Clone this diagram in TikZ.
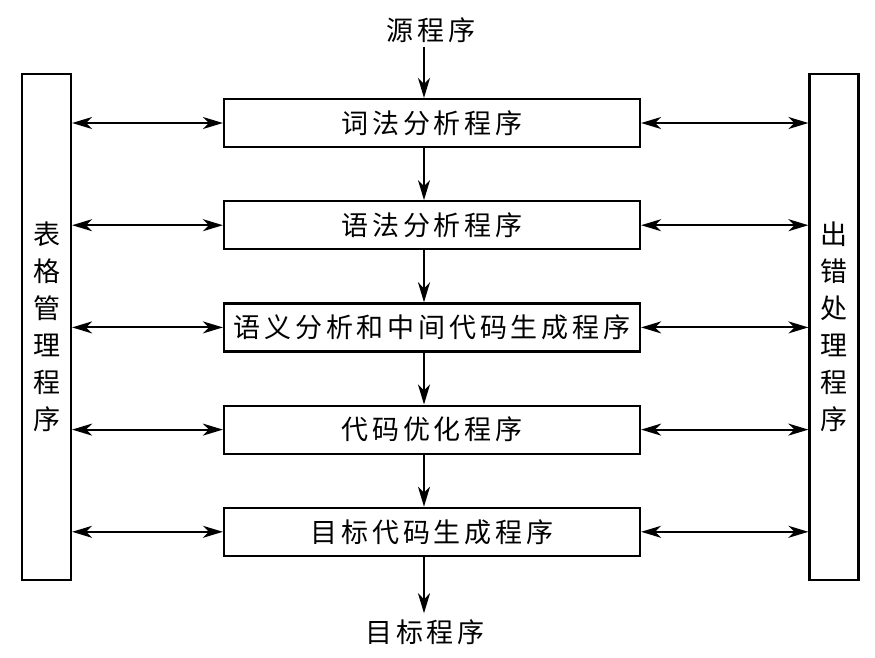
\documentclass[tikz,border=0pt]{standalone}
\usepackage{fontspec}
\newfontfamily\cjk[LetterSpace=14]{Noto Sans CJK SC}
\newfontfamily\cjkv{Noto Sans CJK SC}
\usepackage{tikz}
\usetikzlibrary{arrows.meta, positioning, calc}
\tikzset{
    block/.style={rectangle, draw=black, line width=2.2pt, minimum width=416pt, minimum height=48pt, inner sep=0pt, font=\cjk\fontsize{27}{32}\selectfont},
    sidebox/.style={rectangle, draw=black, line width=2.2pt, minimum width=49pt, minimum height=506pt, inner sep=0pt, align=center, font=\cjkv\fontsize{27}{37}\selectfont},
    io/.style={inner sep=0pt, font=\cjk\fontsize{27}{32}\selectfont},
    arrow/.style={-{Stealth[length=20pt, width=12pt, inset=6pt]}, line width=2pt},
    biarrow/.style={{Stealth[length=20pt, width=12pt, inset=6pt]}-{Stealth[length=20pt, width=12pt, inset=6pt]}, line width=2pt}
}

\begin{document}
\begin{tikzpicture}[x=1pt, y=-1pt, node distance=52pt]
    \useasboundingbox (0,0) rectangle (875,657);

    % the five passes
    \node [block] (lex) at (432,123) {词法分析程序};
    \node [block, below=of lex] (syn) {语法分析程序};
    \node [block, below=of syn] (sem) {语义分析和中间代码生成程序};
    \node [block, below=of sem] (opt) {代码优化程序};
    \node [block, below=of opt] (gen) {目标代码生成程序};

    % side boxes
    \node [sidebox] (table) at (46.5,327) {表\\格\\管\\理\\程\\序};
    \node [sidebox] (error) at (834,327) {出\\错\\处\\理\\程\\序};

    % input and output
    \node [io] (src) at (431,30) {源程序};
    \node [io] (tgt) at (425,632) {目标程序};
    \coordinate (ax) at (424,0);

    % main flow
    \draw [arrow] (ax |- src.south) ++(0,4) -- (ax |- lex.north);
    \draw [arrow] (ax |- lex.south) -- (ax |- syn.north);
    \draw [arrow] (ax |- syn.south) -- (ax |- sem.north);
    \draw [arrow] (ax |- sem.south) -- (ax |- opt.north);
    \draw [arrow] (ax |- opt.south) -- (ax |- gen.north);
    \draw [arrow] (ax |- gen.south) -- ($(ax |- tgt.north)+(0,-6)$);

    % links to the side boxes
    \foreach \pass in {lex, syn, sem, opt, gen} {
        \draw [biarrow] (table.east |- \pass) -- (\pass.west);
        \draw [biarrow] (\pass.east) -- (error.west |- \pass);
    }
\end{tikzpicture}
\end{document}
